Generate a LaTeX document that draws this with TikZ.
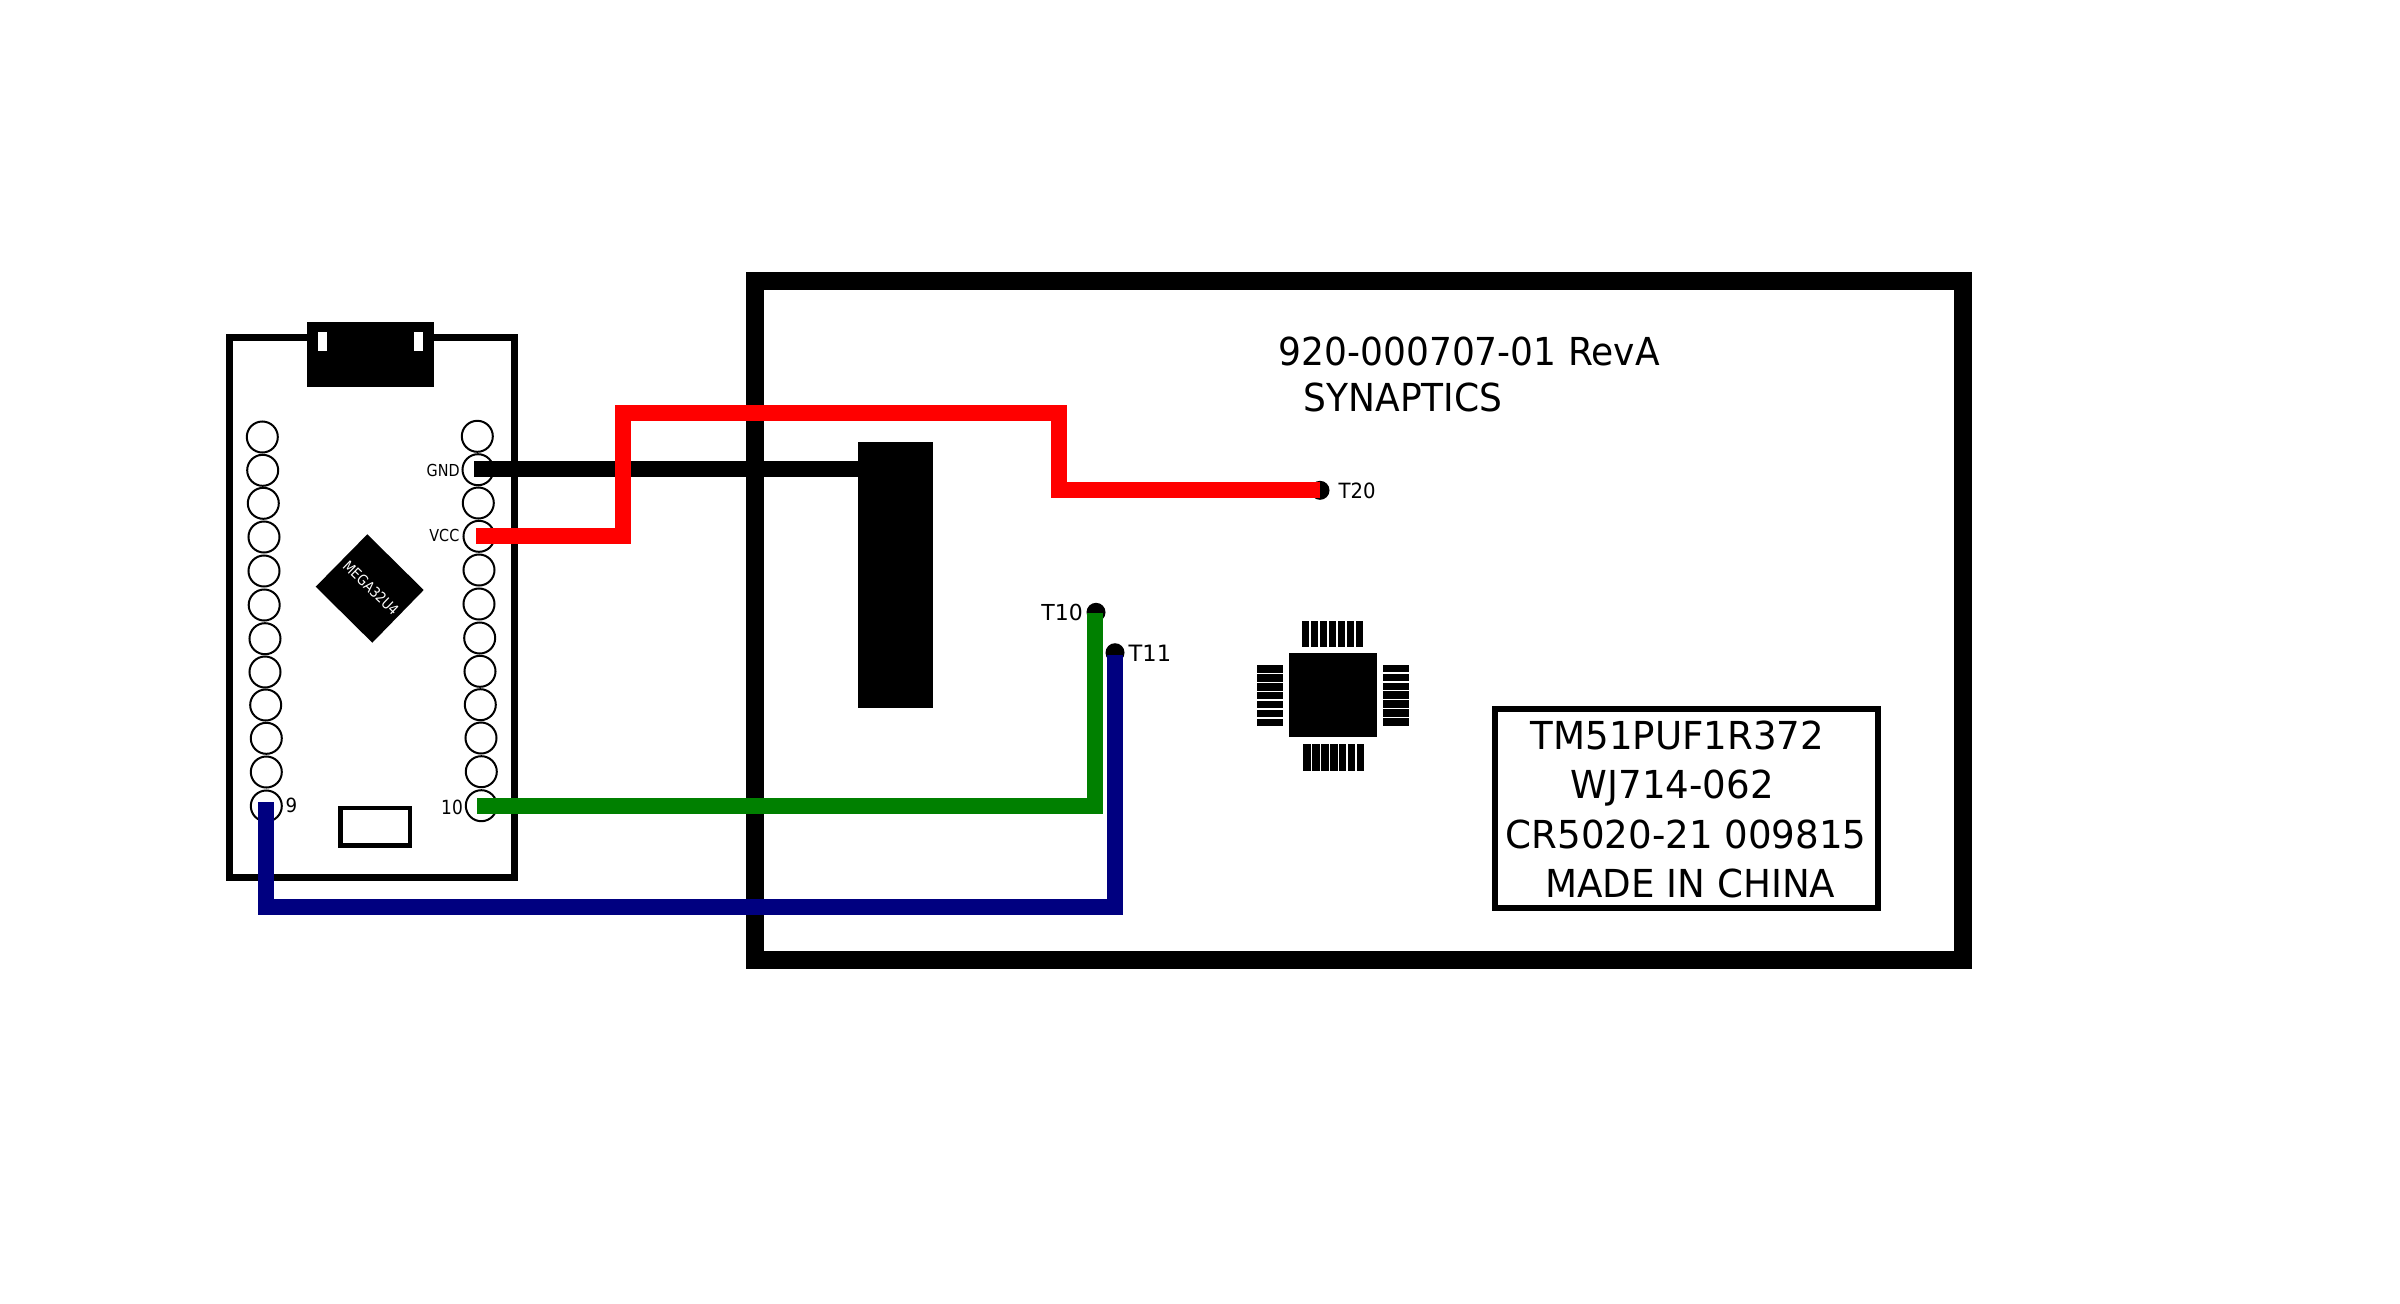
\documentclass[tikz,border=0pt]{standalone}
\usepackage{fontspec}
\setmainfont{DejaVu Sans}
\newfontfamily\labelfam[FakeStretch=0.935]{DejaVu Sans}
\newfontfamily\boxfam[FakeStretch=0.965]{DejaVu Sans}
\newfontfamily\tinyfam[FakeStretch=0.87]{DejaVu Sans}
\newcommand{\pxfont}[1]{\fontsize{\dimexpr #1pt*2845/10000\relax}{\dimexpr #1pt*2845/10000\relax}\selectfont}
\tikzset{
  x=0.01cm,y=-0.01cm,
  pcb/.style={draw=black,line width=7*0.2845pt,fill=white},
  pad/.style={circle,draw=black,line width=2*0.2845pt,minimum size=31*0.2845pt,inner sep=0pt},
  wire/.style={line width=16*0.2845pt,line cap=butt,line join=miter},
  dot/.style={circle,fill=black,minimum size=19*0.2845pt,inner sep=0pt},
  lbl/.style={anchor=base west,inner sep=0pt,text=black},
}
\definecolor{wiregreen}{RGB}{0,128,0}
\definecolor{wireblue}{RGB}{0,0,128}
\begin{document}
\begin{tikzpicture}
\useasboundingbox (0,0) rectangle (2400,1303);
% module outline
\draw[draw=black,line width=18*0.2845pt] (755,281) rectangle (1963.2,960.2);
% arduino board
\draw[pcb] (229,337.5) rectangle (514.5,877);
\fill[black] (307,321.7) rectangle (433.7,387.3);
\fill[white] (318.3,332) rectangle (327,350.5);
\fill[white] (414,332) rectangle (423,350.5);
\fill[black] (367.3,534.3) -- (423.7,590) -- (372.3,642.7) -- (315.7,586.7) -- cycle;
\node[text=white,rotate=-44,inner sep=0pt] (mcu) at (371,588) {\pxfont{14.5}\tinyfam MEGA32U4};
\draw[black,line width=4.5*0.2845pt] (340.5,808) rectangle (410,845.5);
% pads
\foreach \n/\x/\y in {1/262.3/437,2/262.7/470.3,3/263.3/503.3,4/264/537,5/264/571,6/264.2/605,7/265/638.7,8/265/672,9/265.7/705,10/266.3/738.3,11/266.3/772,12/266.3/806}
  \node[pad] (L\n) at (\x,\y) {};
\foreach \n/\x/\y in {1/477.3/436.3,2/478/469.7,3/478.3/503,4/479/536.3,5/479/570,6/479/604,7/479.7/638,8/480/671.3,9/480.3/704.7,10/481/738,11/481.3/771.7,12/481.3/805.7}
  \node[pad] (R\n) at (\x,\y) {};
\node[lbl] (gnd) at (426,476) {\pxfont{16.5}\tinyfam GND};
\node[lbl] (vcc) at (428.7,541.7) {\pxfont{16.5}\tinyfam VCC};
\node[lbl] (p9) at (285,812.7) {\pxfont{19.5}\labelfam 9};
\node[lbl] (p10) at (440.5,814) {\pxfont{19.5}\tinyfam 10};
% connector block
\node[fill=black,inner sep=0pt,minimum width=74.7*0.2845pt,minimum height=266*0.2845pt] (conn) at (895.7,575.3) {};
% test points
\node[dot] (T20) at (1320,490.3) {};
\node[dot] (T10) at (1096,612.3) {};
\node[dot] (T11) at (1115,652.7) {};
\node[lbl] at (1338,498.7) {\pxfont{21}\labelfam T20};
\node[lbl] at (1040.7,620) {\pxfont{22}T10};
\node[lbl] at (1128,661.7) {\pxfont{22.5}T11};
% chip
\fill[black] (1289.3,653.3) rectangle (1376.7,737.3);
\foreach \i in {0,...,6} {
  \fill[black] ({1302+8.93*\i},620.7) rectangle ++(7.4,26);
  \fill[black] ({1303.3+8.93*\i},744.3) rectangle ++(7.4,26.4);
  \fill[black] (1256.7,{665.3+8.93*\i}) rectangle ++(26,7.4);
  \fill[black] (1383.3,{664.7+8.93*\i}) rectangle ++(26,7.4);
}
% texts
\node[lbl] at (1278,365) {\pxfont{38.5}\labelfam 920-000707-01 RevA};
\node[lbl] at (1303,411.7) {\pxfont{38.5}\labelfam SYNAPTICS};
\draw[draw=black,line width=6*0.2845pt] (1494.7,709) rectangle (1878.3,908);
\node[lbl] at (1530,749.3) {\pxfont{38.5}\boxfam TM51PUF1R372};
\node[lbl] at (1570,798.3) {\pxfont{38.5}\boxfam WJ714-062};
\node[lbl] at (1505,848.3) {\pxfont{38.5}\boxfam CR5020-21 009815};
\node[lbl] at (1544.5,897.7) {\pxfont{38.5}\boxfam MADE IN CHINA};
% wires
\draw[wire,black] (474.3,469.3) -- (conn.west |- 0,469.3);
\draw[wire,red] (476,536) -- (622.5,536) -- (622.5,412.8) -- (1058.7,412.8) -- (1058.7,490.3) -- (T20.center);
\draw[wire,wiregreen] (477.3,806.3) -- (1094.7,806.3) -- (1094.7,613.3);
\draw[wire,wireblue] (266,802.3) -- (266,906.7) -- (1115.3,906.7) -- (1115.3,655);
\end{tikzpicture}
\end{document}
